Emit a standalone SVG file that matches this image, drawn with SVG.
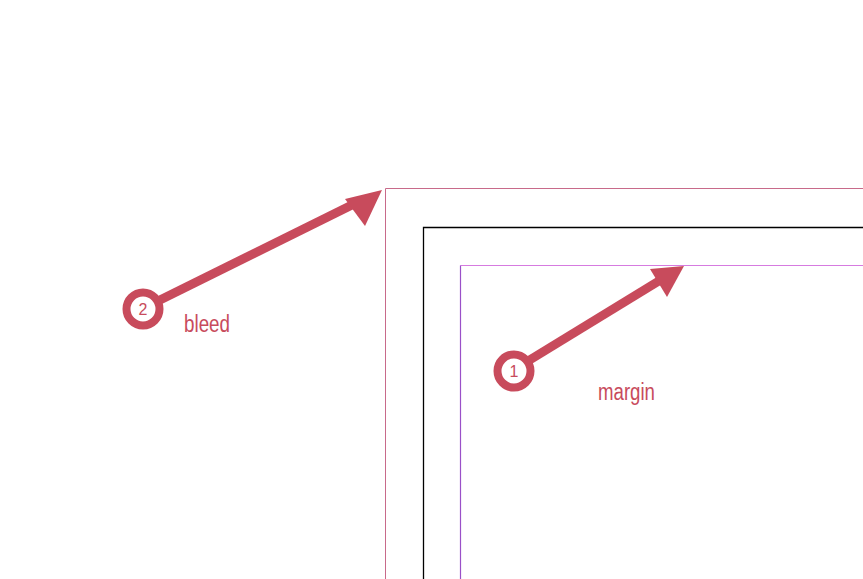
<svg xmlns="http://www.w3.org/2000/svg" width="863" height="579" viewBox="0 0 863 579">
<style>
.lbl{font-family:"Liberation Sans Narrow","Liberation Sans",Arial,sans-serif;fill:#c84b5c;font-size:23px}
.num{font-family:"Liberation Sans Narrow","Liberation Sans",Arial,sans-serif;fill:#c84b5c;font-size:16px;text-anchor:middle}
.ring{fill:#fff;stroke:#c84b5c;stroke-width:8}
.shaft{stroke:#c84b5c;stroke-width:9;fill:none}
.head{fill:#c84b5c}
</style>
<rect width="863" height="579" fill="#fff"/>
<g id="page">
<path d="M385.5 579 V188.5 H863" fill="none" stroke="#c86a8a" stroke-width="1"/>
<path d="M423.5 579 V227.5 H863" fill="none" stroke="#000" stroke-width="1.3"/>
<path d="M460.5 265.5 H863" fill="none" stroke="#d67be0" stroke-width="1.2"/>
<path d="M460.5 579 V265.5" fill="none" stroke="#9a50c8" stroke-width="1.2"/>
</g>
<g id="connectors">
<line class="shaft" x1="158" y1="301" x2="362" y2="200"/>
<polygon class="head" points="382,190 345,199 365,226"/>
<line class="shaft" x1="528" y1="361" x2="667" y2="276"/>
<polygon class="head" points="684,266 650,269 667,297"/>
</g>
<g id="node-bleed">
<circle class="ring" cx="143" cy="309" r="16.5"/>
<text class="num" x="143" y="315">2</text>
<text class="lbl" x="184" y="332" textLength="46" lengthAdjust="spacingAndGlyphs">bleed</text>
</g>
<g id="node-margin">
<circle class="ring" cx="514" cy="371" r="16.5"/>
<text class="num" x="514" y="377">1</text>
<text class="lbl" x="598" y="400" textLength="57" lengthAdjust="spacingAndGlyphs">margin</text>
</g>
</svg>
